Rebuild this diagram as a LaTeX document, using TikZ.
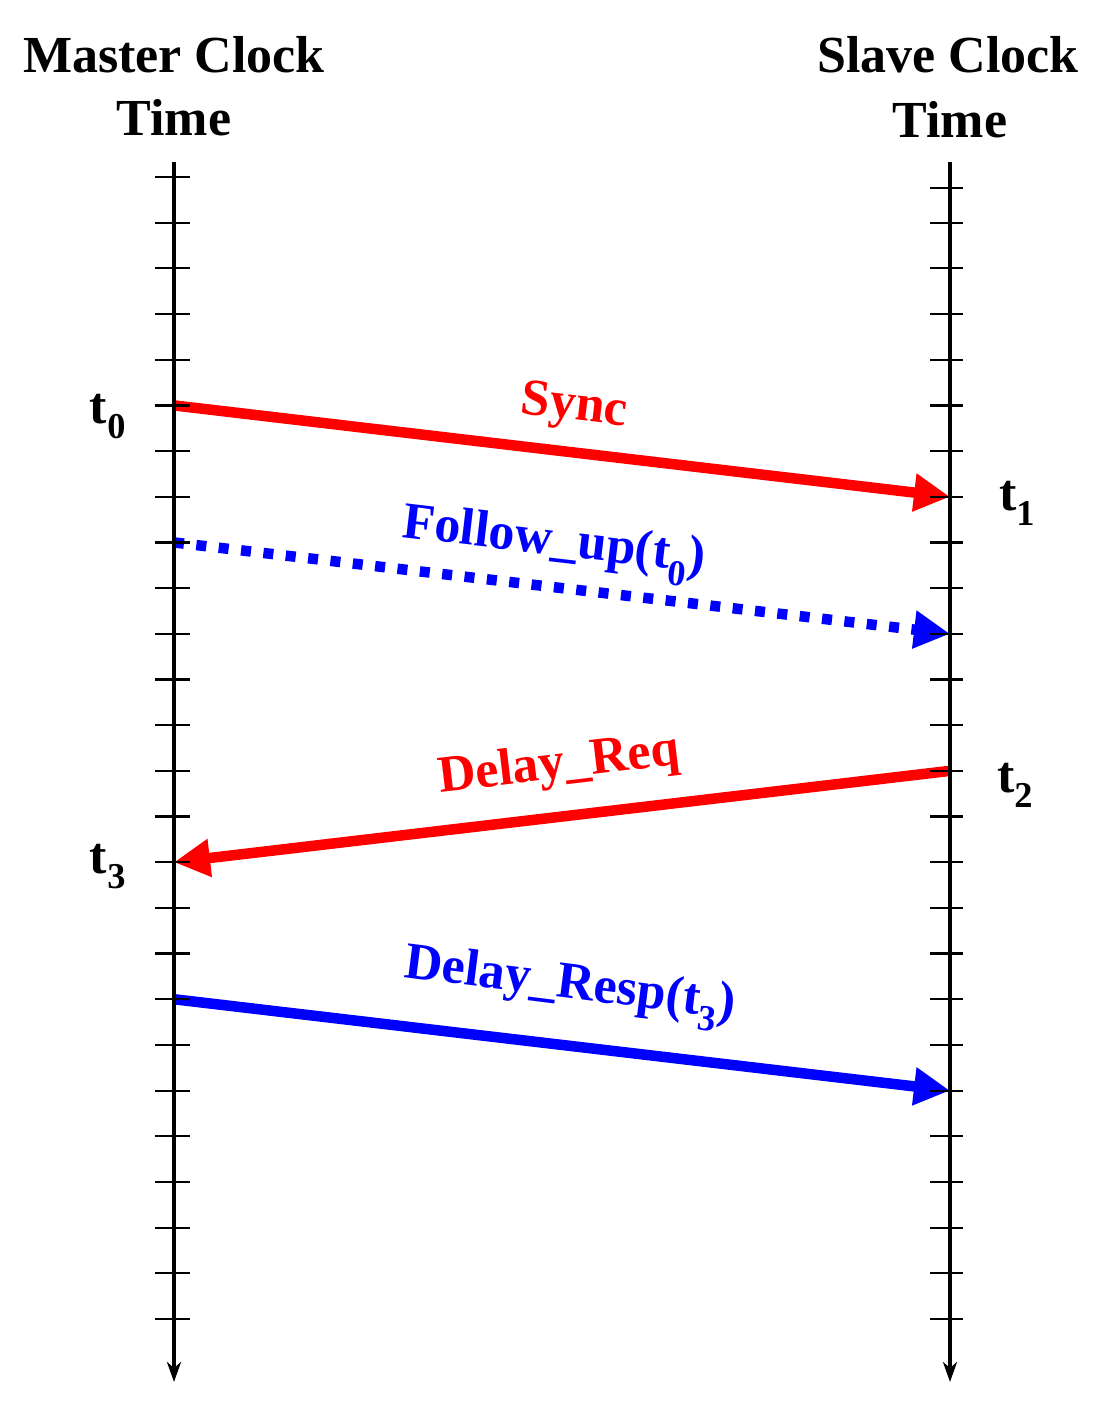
\documentclass[tikz,border=0pt]{standalone}
\usepackage{fontspec}
\setmainfont{Liberation Serif}
\usetikzlibrary{arrows.meta}
\definecolor{msgred}{RGB}{255,0,0}
\definecolor{msgblue}{RGB}{0,0,255}
\begin{document}
\begin{tikzpicture}[x=1pt,y=1pt,
  axisline/.style={line width=4.5pt,-{Stealth[length=20pt,width=14pt,inset=6pt]}},
  tickline/.style={line width=2.2pt},
  msg/.style={line width=10.5pt,-{Triangle[length=36pt,width=36pt]}},
  dotmsg/.style={msg,dash pattern=on 10pt off 12.5pt},
  big/.style={font=\fontsize{52}{62}\selectfont\bfseries,inner sep=0pt},
  lbl/.style={big,anchor=center},
  tlbl/.style={big,anchor=base}]
\useasboundingbox (0,0) rectangle (1104,-1413);
% axes end points
\coordinate (Ltop) at (174,-162);
\coordinate (Lbot) at (174,-1382);
\coordinate (Rtop) at (950,-162);
\coordinate (Rbot) at (950,-1382);
% tick points
\foreach \i in {0,...,25}{
  \coordinate (L\i) at (174,-177-\i*45.68);
  \coordinate (R\i) at (950,-177-\i*45.68);
}
\coordinate (R0) at (950,-188);
% messages
\draw[msg,msgred] (L5) -- (R7);
\draw[dotmsg,msgblue] (L8) -- (R10);
\draw[msg,msgred] (R13) -- (L15);
\draw[msg,msgblue] (L18) -- (R20);
% axes
\draw[axisline] (Ltop) -- (Lbot);
\draw[axisline] (Rtop) -- (Rbot);
\foreach \i in {0,...,25}{
  \draw[tickline] ([xshift=-19pt]L\i) -- ([xshift=16pt]L\i);
  \draw[tickline] ([xshift=-20pt]R\i) -- ([xshift=13pt]R\i);
}
% headers
\node[tlbl] (mc) at (174,-72) {Master Clock};
\node[tlbl] (mt) at (174,-135) {Time};
\node[tlbl] (sc) at (948,-73) {Slave Clock};
\node[tlbl] (st) at (950,-137) {Time};
% time labels
\node[tlbl] (t0) at (108,-423) {t\textsubscript{0}};
\node[tlbl] (t1) at (1017,-510) {t\textsubscript{1}};
\node[tlbl] (t2) at (1015,-792) {t\textsubscript{2}};
\node[tlbl] (t3) at (108,-873) {t\textsubscript{3}};
% message labels
\node[lbl,msgred,rotate=-6.8] (sync) at (574,-408) {Sync};
\node[lbl,msgblue,rotate=-6.7] (fu) at (554,-545) {Follow\_up(t\textsubscript{0})};
\node[lbl,msgred,rotate=6.8] (dreq) at (559,-766) {Delay\_Req};
\node[lbl,msgblue,rotate=-7.2] (dresp) at (570,-988) {Delay\_Resp(t\textsubscript{3})};
\end{tikzpicture}
\end{document}
